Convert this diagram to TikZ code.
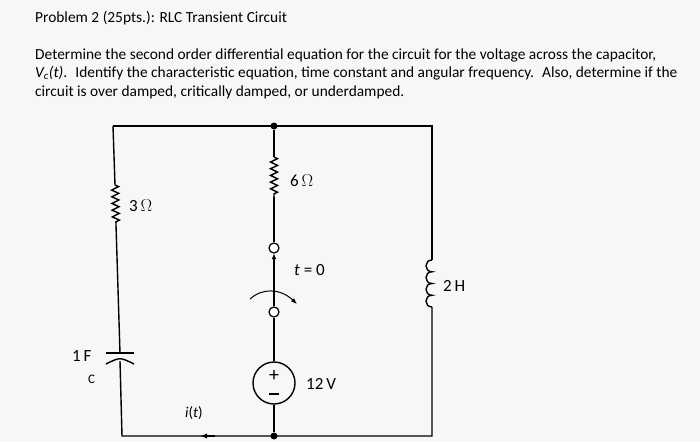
\documentclass[tikz,border=0pt]{standalone}
\usepackage{fontspec}
\setmainfont{Carlito}
\usetikzlibrary{arrows.meta,decorations.pathmorphing}
\begin{document}
\begin{tikzpicture}[x=1pt,y=-1pt,
  wire/.style={line width=1.4pt},
  lbl/.style={font=\fontsize{17}{19}\selectfont,anchor=west,inner sep=0pt},
  txt/.style={font=\fontsize{15.4}{18}\selectfont,anchor=west,inner sep=0pt},
  term/.style={circle,draw,line width=1.2pt,fill=white,minimum size=10pt,inner sep=0pt},
  dot/.style={circle,fill,minimum size=7pt,inner sep=0pt}]
\useasboundingbox (0,0) rectangle (700,442);
\fill[white!94!gray] (0,0) rectangle (700,442);
\node[txt] (title) at (35,18) {Problem 2 (25pts.): RLC Transient Circuit};
\node[txt] (l1) at (35,55) {Determine the second order differential equation for the circuit for the voltage across the capacitor,};
\node[txt] (l2) at (35,73) {\textit{V\textsubscript{c}(t)}. \ Identify the characteristic equation, time constant and angular frequency. \ Also, determine if the};
\node[txt] (l3) at (35,92) {circuit is over damped, critically damped, or underdamped.};
% nodes
\node[dot] (top) at (274,126) {};
\node[dot] (bot) at (274,436) {};
\coordinate (tl) at (113,126);
\coordinate (tr) at (432,126);
\coordinate (br) at (432,436);
\coordinate (bl) at (122,436);
\coordinate (r3a) at (115,185);
\coordinate (r3b) at (116,225);
\coordinate (c1) at (120,353);
\coordinate (c2) at (120,361);
\coordinate (r6a) at (274,157);
\coordinate (r6b) at (274,197);
\node[term] (s1) at (274,248) {};
\node[term] (s2) at (274,312) {};
\node[circle,draw,line width=1.4pt,minimum size=42pt,inner sep=0pt,fill=white!94!gray] (src) at (274,383) {};
\coordinate (la) at (432,260);
\coordinate (lb) at (432,307);
% wires
\draw[wire] (tl) -- (tr) -- (la);
\draw[wire] (lb) -- (br) -- (bl) -- (c2);
\draw[wire] (tl) -- (r3a);
\draw[wire,decorate,decoration={zigzag,segment length=6.7pt,amplitude=3.5pt}] (r3a) -- (r3b);
\draw[wire] (r3b) -- (c1);
\draw[wire] (106,353) -- (134,353);
\draw[wire] (106,364) .. controls (120,357) .. (134,364);
\draw[wire] (top) -- (r6a);
\draw[wire,decorate,decoration={zigzag,segment length=6.7pt,amplitude=3.5pt}] (r6a) -- (r6b);
\draw[wire] (r6b) -- (s1);
\draw[wire] (s2) -- (src);
\draw[wire] (src) -- (bot);
\draw[wire,-{Latex[length=6pt]}] (s2.north) -- (274,253);
\draw[line width=1pt,-{Latex[length=6pt]}] (250,299) .. controls (262,288) and (280,288) .. (297,304);
\draw[wire] (la) .. controls (424,260) and (424,271.75) .. (432,271.75)
  .. controls (424,271.75) and (424,283.5) .. (432,283.5)
  .. controls (424,283.5) and (424,295.25) .. (432,295.25)
  .. controls (424,295.25) and (424,307) .. (lb);
\node[font=\fontsize{20}{20}\selectfont] (plus) at (274,376) {+};
\draw[wire] (269,394) -- (279,394);
\draw[wire,-{Latex[length=7pt]}] (215,436) -- (200,436);
% labels
\node[lbl] (t3) at (129,206) {3\,$\Omega$};
\node[lbl] (t6) at (290,181) {6\,$\Omega$};
\node[lbl] (tt) at (294,270) {\textit{t} = 0};
\node[lbl] (tL) at (443,286) {2\,H};
\node[lbl] (tF) at (72,356) {1\,F};
\node[lbl,font=\fontsize{13}{15}\selectfont] (tC) at (88,379) {C};
\node[lbl] (tV) at (306,384) {12\,V};
\node[lbl,font=\fontsize{15}{17}\selectfont\rmfamily] (ti) at (185,413) {\textit{i}(\textit{t})};
\end{tikzpicture}
\end{document}
